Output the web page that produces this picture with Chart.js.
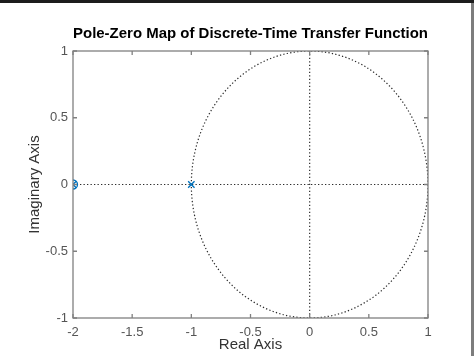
<!DOCTYPE html>
<html>
<head>
<meta charset="utf-8">
<script src="https://cdn.jsdelivr.net/npm/chart.js@4"></script>
<style>
  html, body { margin: 0; padding: 0; background: #fff; overflow: hidden; }
  #wrap { position: relative; width: 474px; height: 356px; }
  #topbar { position: absolute; left: 0; top: 0; width: 474px; height: 3px; background: #1c1c1c; }
  #rightbar { position: absolute; left: 471px; top: 3px; width: 3px; height: 353px; background: #7d7d7d; }
  canvas { position: absolute; left: 0; top: 0; }
</style>
</head>
<body>
<div id="wrap">
  <canvas id="c" width="474" height="356"></canvas>
  <div id="topbar"></div>
  <div id="rightbar"></div>
</div>
<script>
// ---- data ----
const poleRe = [-2, -1];
const poleIm = [0, 0];
const zeroRe = [-2];
const zeroIm = [0];
const realAxisLine = { re: [-2, 1], im: [0, 0] };
const imagAxisLine = { re: [0, 0], im: [-1, 1] };
const unitCircle = { re: 0, im: 0, r: 1 };
const xTickValues = [-2, -1.5, -1, -0.5, 0, 0.5, 1];
const xTickLabels = ['-2', '-1.5', '-1', '-0.5', '0', '0.5', '1'];
const yTickValues = [-1, -0.5, 0, 0.5, 1];
const yTickLabels = ['-1', '-0.5', '0', '0.5', '1'];
const titleText = 'Pole-Zero Map of Discrete-Time Transfer Function';
const xTitle = 'Real Axis';
const yTitle = 'Imaginary Axis';

const toPts = (re, im) => re.map((v, i) => ({ x: v, y: im[i] }));
const blue = '#0072BD';
const dotColor = '#2a2a2a';
const dotDash = [1.3, 2.2];

const framePlugin = {
  id: 'frame',
  beforeDatasetsDraw(chart) {
    const { ctx, chartArea: a, scales: { x, y } } = chart;
    ctx.save();
    ctx.beginPath();
    ctx.rect(a.left, a.top, a.right - a.left, a.bottom - a.top);
    ctx.clip();
    const cx = x.getPixelForValue(unitCircle.re);
    const cy = y.getPixelForValue(unitCircle.im);
    const rx = x.getPixelForValue(unitCircle.re + unitCircle.r) - cx;
    const ry = cy - y.getPixelForValue(unitCircle.im + unitCircle.r);
    ctx.setLineDash(dotDash);
    ctx.lineWidth = 1.2;
    ctx.strokeStyle = dotColor;
    ctx.beginPath();
    ctx.ellipse(cx, cy, rx, ry, 0, 0, Math.PI * 2);
    ctx.stroke();
    ctx.restore();
  },
  afterDatasetsDraw(chart) {
    const { ctx, chartArea: a, scales: { x, y } } = chart;
    ctx.save();
    ctx.strokeStyle = '#808080';
    ctx.lineWidth = 1.3;
    ctx.setLineDash([]);
    const tl = 4;
    ctx.beginPath();
    xTickValues.forEach(v => {
      const px = x.getPixelForValue(v);
      ctx.moveTo(px, a.bottom); ctx.lineTo(px, a.bottom - tl);
      ctx.moveTo(px, a.top); ctx.lineTo(px, a.top + tl);
    });
    yTickValues.forEach(v => {
      const py = y.getPixelForValue(v);
      ctx.moveTo(a.left, py); ctx.lineTo(a.left + tl, py);
      ctx.moveTo(a.right, py); ctx.lineTo(a.right - tl, py);
    });
    ctx.stroke();
    ctx.strokeRect(a.left, a.top, a.right - a.left, a.bottom - a.top);
    ctx.restore();
  }
};

new Chart(document.getElementById('c'), {
  type: 'scatter',
  data: {
    datasets: [
      {
        label: 'Zeros', data: toPts(zeroRe, zeroIm), showLine: false,
        pointStyle: 'circle', pointRadius: 4.5, borderColor: blue, backgroundColor: 'rgba(0,0,0,0)',
        borderWidth: 1.3, pointHoverRadius: 4.5
      },
      {
        label: 'Poles', data: toPts(poleRe, poleIm), showLine: false,
        pointStyle: 'crossRot', pointRadius: 4.5, borderColor: blue, backgroundColor: blue,
        borderWidth: 1.4, pointHoverRadius: 4.5
      },
      {
        label: 'Real line', data: toPts(realAxisLine.re, realAxisLine.im), showLine: true,
        pointRadius: 0, borderColor: dotColor, borderWidth: 1.2, borderDash: dotDash, fill: false
      },
      {
        label: 'Imag line', data: toPts(imagAxisLine.re, imagAxisLine.im), showLine: true,
        pointRadius: 0, borderColor: dotColor, borderWidth: 1.2, borderDash: dotDash, fill: false
      }
    ]
  },
  options: {
    responsive: false,
    animation: false,
    events: [],
    layout: { padding: { left: 0, right: 46, top: 0, bottom: 0 } },
    plugins: {
      legend: { display: false },
      tooltip: { enabled: false },
      title: {
        display: true, text: titleText, fullSize: false,
        color: '#000', font: { family: 'Arial, "Liberation Sans", sans-serif', size: 15, weight: 'bold' },
        padding: { top: 25, bottom: 8 }
      }
    },
    scales: {
      x: {
        type: 'linear', min: -2, max: 1,
        afterBuildTicks: s => { s.ticks = xTickValues.map(v => ({ value: v })); },
        afterFit: s => { s.height = 38; },
        grid: { display: false, drawTicks: false },
        border: { display: false },
        ticks: {
          autoSkip: false, maxRotation: 0, padding: 7, color: '#555',
          font: { family: 'Arial, "Liberation Sans", sans-serif', size: 13 },
          callback: (v, i) => xTickLabels[i]
        },
        title: {
          display: true, text: xTitle, color: '#333',
          font: { family: 'Arial, "Liberation Sans", sans-serif', size: 15 },
          padding: { top: 0, bottom: 2 }
        }
      },
      y: {
        type: 'linear', min: -1, max: 1,
        afterBuildTicks: s => { s.ticks = yTickValues.map(v => ({ value: v })); },
        afterFit: s => { s.width = 73; },
        grid: { display: false, drawTicks: false },
        border: { display: false },
        ticks: {
          autoSkip: false, padding: 5, color: '#555',
          font: { family: 'Arial, "Liberation Sans", sans-serif', size: 13 },
          callback: (v, i) => yTickLabels[i]
        },
        title: {
          display: true, text: yTitle, color: '#333',
          font: { family: 'Arial, "Liberation Sans", sans-serif', size: 15 },
          padding: { top: 26, bottom: 0 }
        }
      }
    }
  },
  plugins: [framePlugin]
});
</script>
</body>
</html>
